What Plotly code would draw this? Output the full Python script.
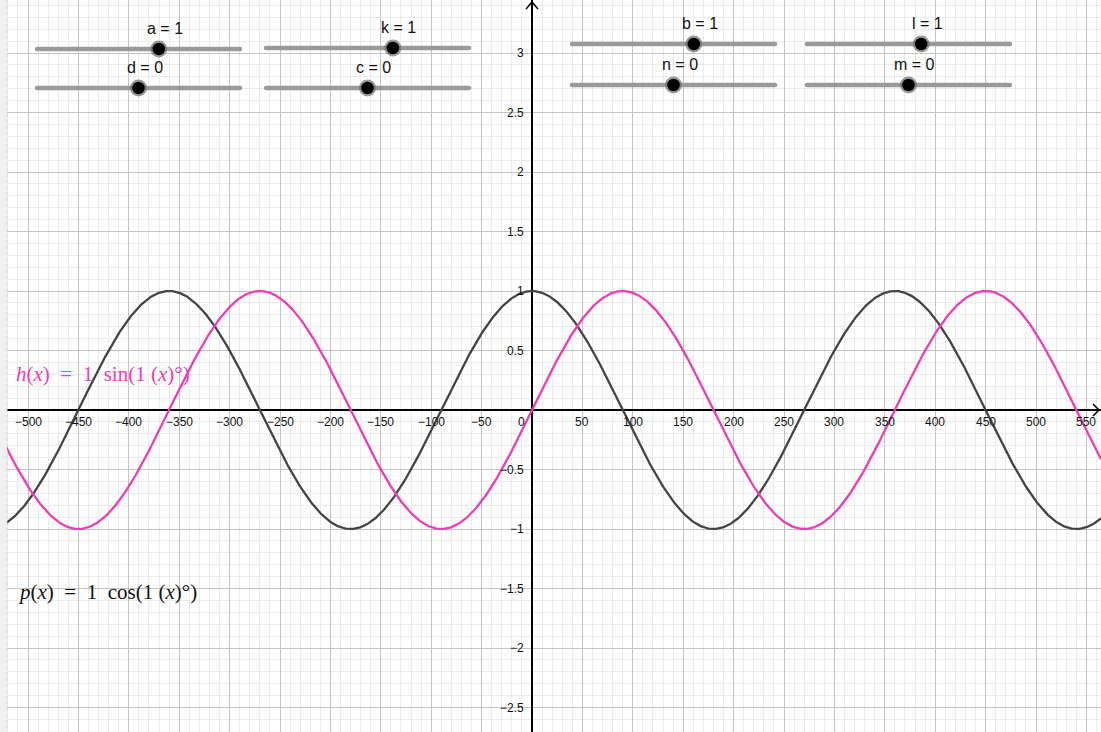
import numpy as np
import plotly.graph_objects as go

# ---------------- data ----------------
slider_names = ["a", "d", "k", "c", "b", "n", "l", "m"]
slider_values = [1, 0, 1, 0, 1, 0, 1, 0]
slider_min = [-5, -5, -4, -5, -5, -5, -8, -5]
slider_max = [5, 5, 4, 5, 5, 5, 8, 5]

x_ticks = list(range(-500, 551, 50))
y_ticks = [3, 2.5, 2, 1.5, 1, 0.5, -0.5, -1, -1.5, -2, -2.5]

SP = "\u2002"  # en space for LaTeX-like spacing
h_label = f"<i>h</i>(<i>x</i>){SP}={SP}1{SP}sin(1 (<i>x</i>)°)"
p_label = f"<i>p</i>(<i>x</i>){SP}={SP}1{SP}cos(1 (<i>x</i>)°)"

# ---------------- layout constants ----------------
W, H = 1101, 732
PX_PER_X = 1.008
PX_PER_Y = 119.0
OX, OY = 532.0, 410.0

x_min = -OX / PX_PER_X
x_max = (W - OX) / PX_PER_X
y_max = OY / PX_PER_Y
y_min = -(H - OY) / PX_PER_Y

track_x0 = [37, 37, 266, 266, 572, 572, 807, 807]
track_x1 = [240, 240, 469, 469, 775, 775, 1010, 1010]
track_y = [49, 88, 48, 88, 44, 85, 44, 85]

PINK = "#ee3db5"
DARK = "#444444"

P = dict(zip(slider_names, slider_values))

xs = np.linspace(x_min, x_max, 1500)
h_vals = P["b"] * np.sin(np.radians(P["l"] * (xs - P["n"]))) + P["m"]
p_vals = P["a"] * np.cos(np.radians(P["k"] * (xs - P["d"]))) + P["c"]

fig = go.Figure()
fig.add_trace(go.Scatter(x=xs, y=p_vals, mode="lines",
                         line=dict(color=DARK, width=2.3), hoverinfo="skip"))
fig.add_trace(go.Scatter(x=xs, y=h_vals, mode="lines",
                         line=dict(color=PINK, width=2.3), hoverinfo="skip"))

shapes = []
annotations = []

# sliders (pixel overlay axes)
for name, v, vmin, vmax, x0, x1, ty in zip(slider_names, slider_values, slider_min,
                                            slider_max, track_x0, track_x1, track_y):
    fig.add_trace(go.Scatter(x=[x0, x1], y=[ty, ty], mode="lines+markers",
                             line=dict(color="#9a9a9a", width=4.5),
                             marker=dict(color="#9a9a9a", size=4.5),
                             xaxis="x2", yaxis="y2", hoverinfo="skip"))
    kx = x0 + (v - vmin) / (vmax - vmin) * (x1 - x0)
    fig.add_trace(go.Scatter(x=[kx], y=[ty], mode="markers",
                             marker=dict(color="rgba(110,110,110,0.7)", size=17),
                             xaxis="x2", yaxis="y2", hoverinfo="skip"))
    fig.add_trace(go.Scatter(x=[kx], y=[ty], mode="markers",
                             marker=dict(color="black", size=12.5),
                             xaxis="x2", yaxis="y2", hoverinfo="skip"))
    annotations.append(dict(x=kx + 6, y=ty - 21, xref="x2", yref="y2",
                            text=f"{name} = {v}", showarrow=False,
                            font=dict(family="Liberation Sans", size=16, color="#111")))

# tick labels
def fmt(v):
    s = f"{abs(v):g}"
    return ("\u2212" + s) if v < 0 else s

for v in x_ticks:
    annotations.append(dict(x=v, y=0, xref="x", yref="y", text=fmt(v), showarrow=False,
                            yanchor="top", yshift=-3, xshift=(-11 if v == 0 else 0),
                            font=dict(family="Liberation Sans", size=12, color="#111")))
for v in y_ticks:
    annotations.append(dict(x=0, y=v, xref="x", yref="y", text=fmt(v), showarrow=False,
                            xanchor="right", xshift=-6,
                            font=dict(family="Liberation Sans", size=12, color="#111")))

# function labels
annotations.append(dict(x=14, y=374, xref="x2", yref="y2", text=h_label, showarrow=False,
                        xanchor="left", yanchor="middle",
                        font=dict(family="Liberation Serif", size=21, color=PINK)))
annotations.append(dict(x=16, y=592, xref="x2", yref="y2", text=p_label, showarrow=False,
                        xanchor="left", yanchor="middle",
                        font=dict(family="Liberation Serif", size=21, color="#111")))

# axis arrows (chevrons)
shapes.append(dict(type="path", xref="x2", yref="y2",
                   path=f"M {W-8} {OY-6} L {W-2} {OY} L {W-8} {OY+6}",
                   line=dict(color="black", width=1.5)))
shapes.append(dict(type="path", xref="x2", yref="y2",
                   path=f"M {OX-6} 9 L {OX} 2 L {OX+6} 9",
                   line=dict(color="black", width=1.5)))
# left panel strip
shapes.append(dict(type="rect", xref="x2", yref="y2", x0=0, x1=7, y0=0, y1=H,
                   fillcolor="#f1f1f1", line=dict(width=0), layer="above"))
shapes.append(dict(type="line", xref="x2", yref="y2", x0=7, x1=7, y0=0, y1=H,
                   line=dict(color="#dcdcdc", width=1, dash="dot"), layer="above"))

fig.update_layout(
    width=W, height=H, margin=dict(l=0, r=0, t=0, b=0),
    paper_bgcolor="white", plot_bgcolor="white", showlegend=False,
    xaxis=dict(range=[x_min, x_max], tick0=0, dtick=50, showticklabels=False,
               ticks="", showgrid=True, gridcolor="#c4c4c4", gridwidth=1,
               minor=dict(dtick=10, showgrid=True, gridcolor="#ebebeb", gridwidth=1),
               zeroline=True, zerolinecolor="black", zerolinewidth=1.5,
               fixedrange=True),
    yaxis=dict(range=[y_min, y_max], tick0=0, dtick=0.5, showticklabels=False,
               ticks="", showgrid=True, gridcolor="#c4c4c4", gridwidth=1,
               minor=dict(dtick=0.1, showgrid=True, gridcolor="#ebebeb", gridwidth=1),
               zeroline=True, zerolinecolor="black", zerolinewidth=1.5,
               fixedrange=True),
    xaxis2=dict(range=[0, W], overlaying="x", visible=False, fixedrange=True),
    yaxis2=dict(range=[H, 0], overlaying="y", visible=False, fixedrange=True),
    shapes=shapes, annotations=annotations,
)

fig.write_html("out.html", config={"displayModeBar": False},
               post_script="document.body.style.margin='0';document.body.style.overflow='hidden';")
